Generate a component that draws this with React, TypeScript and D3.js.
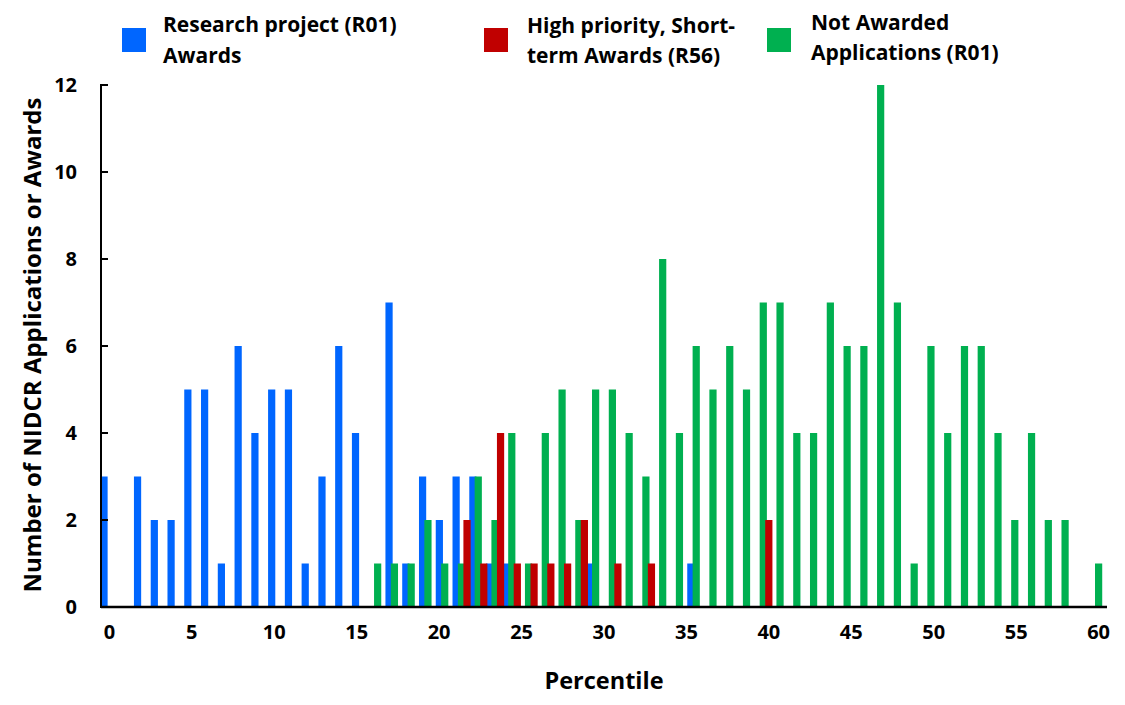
import React from "react";
import * as d3 from "d3";

// 60 percentile bins (category index)
const bins = [
  0, 1, 2, 3, 4, 5, 6, 7, 8, 9, 10, 11, 12, 13, 14, 15, 16, 17, 18, 19,
  20, 21, 22, 23, 24, 25, 26, 27, 28, 29, 30, 31, 32, 33, 34, 35, 36, 37, 38, 39,
  40, 41, 42, 43, 44, 45, 46, 47, 48, 49, 50, 51, 52, 53, 54, 55, 56, 57, 58, 59,
];

const r01Awards = [
  3, 0, 3, 2, 2, 5, 5, 1, 6, 4, 5, 5, 1, 3, 6, 4, 0, 7, 1, 3,
  2, 3, 3, 1, 1, 0, 0, 0, 0, 1, 0, 0, 0, 0, 0, 1, 0, 0, 0, 0,
  0, 0, 0, 0, 0, 0, 0, 0, 0, 0, 0, 0, 0, 0, 0, 0, 0, 0, 0, 0,
];

const r56Awards = [
  0, 0, 0, 0, 0, 0, 0, 0, 0, 0, 0, 0, 0, 0, 0, 0, 0, 0, 0, 0,
  0, 2, 1, 4, 1, 1, 1, 1, 2, 0, 1, 0, 1, 0, 0, 0, 0, 0, 0, 2,
  0, 0, 0, 0, 0, 0, 0, 0, 0, 0, 0, 0, 0, 0, 0, 0, 0, 0, 0, 0,
];

const notAwarded = [
  0, 0, 0, 0, 0, 0, 0, 0, 0, 0, 0, 0, 0, 0, 0, 0, 1, 1, 1, 2,
  1, 1, 3, 2, 4, 1, 4, 5, 2, 5, 5, 4, 3, 8, 4, 6, 5, 6, 5, 7,
  7, 4, 4, 7, 6, 6, 12, 7, 1, 6, 4, 6, 6, 4, 2, 4, 2, 2, 0, 1,
];

const xTickLabels = [0, 5, 10, 15, 20, 25, 30, 35, 40, 45, 50, 55, 60];
const yTicks = [0, 2, 4, 6, 8, 10, 12];

const legendLines = [
  ["Research project (R01)", "Awards"],
  ["High priority, Short-", "term Awards (R56)"],
  ["Not Awarded", "Applications (R01)"],
];

const BLUE = "#0066FF";
const RED = "#C00000";
const GREEN = "#00B050";
const FONT = "'Open Sans', 'Noto Sans', sans-serif";

export default function App() {
  const W = 1125;
  const H = 705;
  const left = 101;
  const right = 1107;
  const top = 85;
  const bottom = 607;

  const x = d3.scaleBand<number>().domain(bins).range([left, right]).padding(0);
  const bw = x.bandwidth();
  const xl = d3
    .scaleLinear()
    .domain([0, 60])
    .range([x(bins[0])! + bw / 2, x(bins[bins.length - 1])! + bw / 2]);
  const y = d3.scaleLinear().domain([0, 12]).range([bottom, top]);

  const barW = bw * 0.43;
  // drawing order: blue, green, red (red on top)
  const series = [
    { values: r01Awards, color: BLUE, off: -0.32 },
    { values: notAwarded, color: GREEN, off: 0 },
    { values: r56Awards, color: RED, off: 0.33 },
  ];

  const legend = [
    { color: BLUE, sx: 122, tx: 163, y1: 32, y2: 63, lines: legendLines[0] },
    { color: RED, sx: 484, tx: 527, y1: 33, y2: 63, lines: legendLines[1] },
    { color: GREEN, sx: 767, tx: 811, y1: 30, y2: 60, lines: legendLines[2] },
  ];

  return (
    <svg
      width={W}
      height={H}
      style={{ position: "absolute", left: 0, top: 0, background: "#fff" }}
      fontFamily={FONT}
      fontWeight="bold"
    >
      <rect width={W} height={H} fill="#fff" />
      {series.map((s, si) => (
        <g key={si} fill={s.color}>
          {bins.map((b, i) =>
            s.values[i] > 0 ? (
              <rect
                key={b}
                x={x(b)! + bw / 2 + s.off * bw - barW / 2}
                y={y(s.values[i])}
                width={barW}
                height={y(0) - y(s.values[i])}
              />
            ) : null
          )}
        </g>
      ))}
      {/* axes */}
      <line x1={left} x2={left} y1={top - 1} y2={bottom + 1} stroke="#000" strokeWidth={2} />
      <line x1={left} x2={right} y1={bottom} y2={bottom} stroke="#000" strokeWidth={2.5} />
      {yTicks.map((t) => (
        <g key={t}>
          <line x1={left} x2={left + 7} y1={y(t)} y2={y(t)} stroke="#000" strokeWidth={2} />
          <text x={77} y={y(t)} dy="0.36em" textAnchor="end" fontSize={20} fill="#000">
            {t}
          </text>
        </g>
      ))}
      {xTickLabels.map((t) => (
        <text key={t} x={xl(t)} y={639} textAnchor="middle" fontSize={20} fill="#000">
          {t}
        </text>
      ))}
      <text x={604} y={689} textAnchor="middle" fontSize={23.5} fill="#000">
        Percentile
      </text>
      <text
        transform={`translate(41,345) rotate(-90)`}
        textAnchor="middle"
        fontSize={24}
        fill="#000"
      >
        Number of NIDCR Applications or Awards
      </text>
      {legend.map((l, i) => (
        <g key={i}>
          <rect x={l.sx} y={28} width={24} height={24} fill={l.color} />
          <text x={l.tx} y={l.y1} fontSize={21} fill="#000">
            {l.lines[0]}
          </text>
          <text x={l.tx} y={l.y2} fontSize={21} fill="#000">
            {l.lines[1]}
          </text>
        </g>
      ))}
    </svg>
  );
}
